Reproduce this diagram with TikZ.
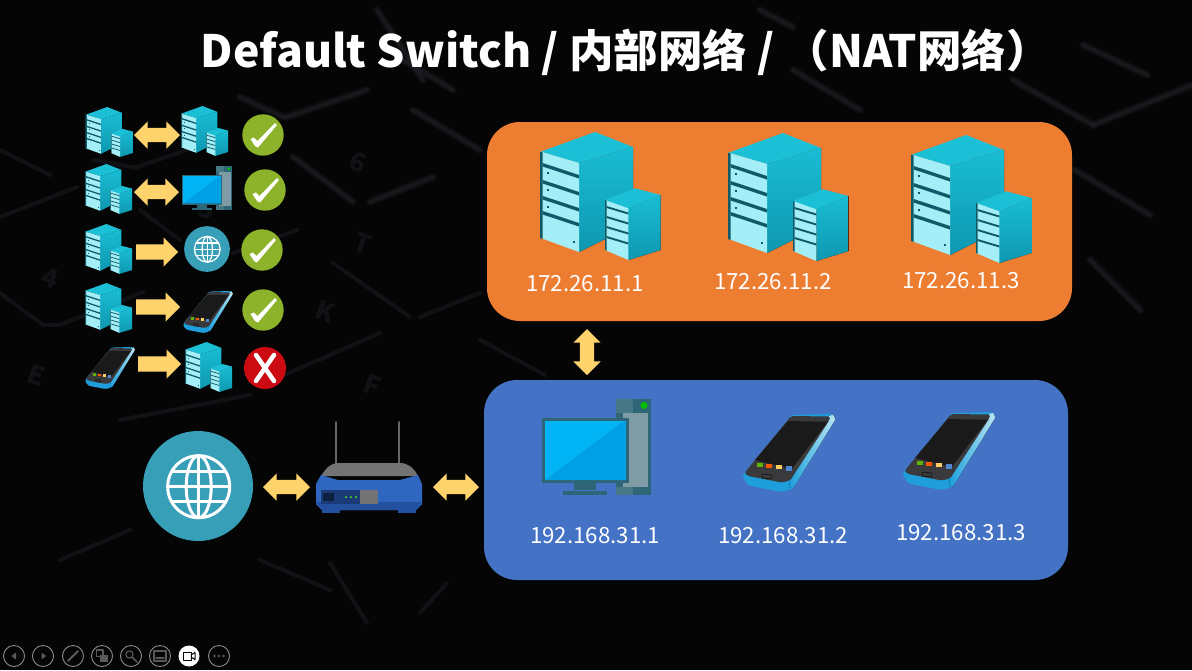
\documentclass[tikz,border=0pt]{standalone}
\usepackage{fontspec}
\setmainfont{Noto Sans CJK SC}
\usetikzlibrary{arrows.meta,calc,positioning,shapes.arrows}
\definecolor{keyglow}{HTML}{1F2026}
\definecolor{keyfaint}{HTML}{111216}
\definecolor{netorange}{HTML}{ED7D31}
\definecolor{netblue}{HTML}{4472C4}
\definecolor{arrowyellow}{HTML}{FFD36B}
\definecolor{okgreen}{HTML}{8DB32B}
\definecolor{badred}{HTML}{CC0A12}
\definecolor{globeteal}{HTML}{389FB8}
\definecolor{towertop}{HTML}{1BC0D6}
\definecolor{towerside}{HTML}{19BDD4}
\definecolor{towerdeep}{HTML}{0E97B0}
\definecolor{towerfront}{HTML}{A4EEF7}
\definecolor{towerband}{HTML}{0F5A68}
\definecolor{pcdark}{HTML}{2F6677}
\definecolor{pcgray}{HTML}{7F9CA6}
\definecolor{pcscreen}{HTML}{00B4F5}
\definecolor{pcshade}{HTML}{00A1E4}
\definecolor{phonerim}{HTML}{1E9FDC}
\definecolor{phonelight}{HTML}{B8E6F2}
\definecolor{phonebody}{HTML}{3A3A3C}
\definecolor{phonescreen}{HTML}{1A1A1A}
\definecolor{routerblue}{HTML}{2F66BF}
\definecolor{routerdeep}{HTML}{234F9F}
\definecolor{toolgray}{HTML}{5A5A5E}

\tikzset{
  pics/serverstack/.style={code={
    % tall tower
    \fill[top color=towerside,bottom color=towerdeep] (39,31) -- (93,15) -- (93,93) -- (39,120) -- cycle;
    \fill[towertop] (0.7,19.7) -- (55,0) -- (93,15) -- (39,31) -- cycle;
    \fill[towerfront] (0.7,19.7) -- (39,31) -- (39,120) -- (0.7,106) -- cycle;
    \fill[towerband] (0,19.7) -- (2.7,20.5) -- (2.7,107) -- (0,106) -- cycle;
    \foreach \yy in {31,48,64,79}{
      \fill[towerband] (2.7,\yy) -- (39,\yy+12) -- (39,\yy+15.5) -- (2.7,\yy+3.5) -- cycle;
    }
    \foreach \dx/\dy in {8/41,8/58,8/75,34/110}{
      \fill[towerband] (\dx-0.8,\dy-0.8) rectangle (\dx+0.8,\dy+0.8);
    }
    % small tower
    \fill[top color=towerside,bottom color=towerdeep] (88.3,76.3) -- (120.7,63) -- (120.7,118) -- (88.3,128) -- cycle;
    \fill[towertop] (65,68) -- (95,56.3) -- (120.7,63) -- (88.3,76.3) -- cycle;
    \fill[towerfront] (65,68) -- (88.3,76.3) -- (88.3,128) -- (65,118) -- cycle;
    \fill[towerband] (65,68) -- (66.5,68.5) -- (66.5,118.7) -- (65,118) -- cycle;
    \foreach \yy in {74,84,94,104}{
      \fill[towerband] (66.5,\yy) -- (88.3,\yy+6.5) -- (88.3,\yy+8.5) -- (66.5,\yy+2) -- cycle;
    }
  }},
  pics/desktoppc/.style={code={
    % tower behind the monitor
    \fill[pcdark] (74,0) rectangle (109,96);
    \fill[pcgray] (81,14) rectangle (106,88);
    \fill[pcdark!70!pcgray] (74,0) rectangle (91,14);
    \fill[pcdark!70!pcgray] (74,88) rectangle (91,96);
    \fill[green!75!black] (102,6.5) circle (3.6);
    % monitor
    \fill[pcdark] (0,19) rectangle (87,84);
    \fill[pcscreen] (3,22) rectangle (84,81);
    \fill[pcshade] (3,81) -- (79,24) -- (84,22) -- (84,81) -- cycle;
    \fill[pcdark] (32,84) rectangle (54,91);
    \fill[pcdark] (21,92) rectangle (65,95.5);
  }},
  pics/smartphone/.style={code={
    \fill[phonerim,rounded corners=2.5] (48.7,1) -- (89,0) -- (92.5,5) -- (50,74.5) -- (38.7,78) -- (5.3,71.5) -- (-0.7,62) -- cycle;
    \fill[left color=phonerim,right color=phonelight] (86,2) -- (90,0.5) -- (92.3,5.5) -- (50,74.5) -- (46,73) -- (47,67) -- cycle;
    \fill[phonebody,rounded corners=2] (48,2) -- (87,2.5) -- (86.5,6) -- (47,66.5) -- (38.7,68.5) -- (5,62) -- (1.5,59) -- cycle;
    \fill[phonescreen] (45,7) -- (84.7,7.7) -- (48.7,55) -- (12,46) -- cycle;
    \draw[phonescreen,line width=0.8pt,rounded corners=1] (19,60) -- (29,61) -- (29,65) -- (19,64) -- cycle;
    \foreach \dx/\dy/\dc in {17/51/green!45!yellow!70!black,26/52/orange!70!red,35.7/53/yellow!40!orange!60!white,46/54.3/cyan!50!blue!75!white}{
      \fill[\dc] (\dx-2.8,\dy-2.3) rectangle (\dx+2.8,\dy+2.3);
    }
  }},
  pics/globeicon/.style={code={
    \fill[globeteal] (0,0) circle (55);
    \begin{scope}[white,line width=#1*3pt]
      \draw (0.7,0.7) circle (31);
      \draw (0.7,0.7) ellipse (12.5 and 31);
      \draw (0.7,-30.3) -- (0.7,31.7);
      \draw (-30.3,0.7) -- (31.7,0.7);
      \draw (-26,-14.3) -- (27.4,-14.3);
      \draw (-26,15.7) -- (27.4,15.7);
    \end{scope}
  }},
  pics/wifirouter/.style={code={
    \foreach \xx in {20,83}{
      \draw[black!60,line width=1.6pt] (\xx,0) -- (\xx,42);
    }
    \fill[black!55] (5,54) .. controls (10,46) and (15,41) .. (22,41) -- (84,41)
      .. controls (92,41) and (98,46) .. (102,54) -- cycle;
    \fill[routerblue] (0,62) -- (5,53) -- (22,58) -- (84,58) -- (102,53) -- (106,62)
      -- (106,82) -- (100,88) -- (6,88) -- (0,82) -- cycle;
    \fill[routerdeep] (0,80) -- (106,80) -- (100,88) -- (6,88) -- cycle;
    \fill[routerdeep!75!black] (5,68) rectangle (44,82);
    \fill[black!55] (44,68) rectangle (62,82);
    \fill[routerdeep!40!black] (7,71) rectangle (18,79);
    \foreach \xx in {30,35,40}{
      \fill[green!70!yellow] (\xx,75) circle (1);
    }
    \fill[routerdeep] (6,88) rectangle (24,91);
    \fill[routerdeep] (82,88) rectangle (100,91);
  }},
  pics/okmark/.style={code={
    \fill[okgreen] (0,0) circle (20.7);
    \fill[white] (-12.5,4) -- (-9,2.5) -- (-5.5,6) -- (12,-12) -- (14,-10) -- (-5,12.5) -- (-8,11) -- cycle;
  }},
  pics/badmark/.style={code={
    \fill[badred] (0,0) circle (21);
    \draw[white,line width=4.5pt] (-9,-13) -- (9,13);
    \draw[white,line width=4.5pt] (9,-13) -- (-9,13);
  }}
}

\begin{document}
\begin{tikzpicture}[x=1pt,y=-1pt,line cap=round,line join=round,
    titletext/.style={text=white,font=\bfseries\fontsize{44.5}{50}\selectfont,inner sep=0pt},
    iptext/.style={text=white,font=\fontsize{22.3}{26}\selectfont,inner sep=0pt},
    netbox/.style={rounded corners=33pt},
    onearrow/.style={single arrow,anchor=tail,fill=arrowyellow,inner xsep=0pt,inner ysep=7.5pt,minimum width=29pt,
      minimum height=#1,single arrow head extend=7pt,single arrow tip angle=90},
    twoarrow/.style={double arrow,fill=arrowyellow,inner xsep=0pt,inner ysep=7pt,minimum width=27pt,
      minimum height=#1,double arrow head extend=6.5pt,double arrow tip angle=90},
    toolbtn/.style={circle,draw=toolgray!70,line width=0.9pt,minimum size=21pt,inner sep=0pt},
    toolmark/.style={toolgray,line width=1.1pt}]
  \useasboundingbox (0,0) rectangle (1192,670);
  \fill[black!98] (0,0) rectangle (1192,670);

  % Key edges of the photo behind everything.
  \foreach \xa/\ya/\xb/\yb in {
    760/10/793/27,793/70/860/110,1013/80/1093/125,1093/125/1192/85,1083/45/1147/75,
    377/10/423/80,403/60/453/90,240/97/283/117,287/117/367/90,413/110/480/150,
    293/157/353/202,370/202/433/177,1075/170/1150/215,1090/260/1140/310}{
    \draw[keyglow,line width=8pt,opacity=0.3] (\xa,\ya) -- (\xb,\yb);
    \draw[keyglow,line width=4pt,opacity=0.6] (\xa,\ya) -- (\xb,\yb);
  }
  \foreach \xa/\ya/\xb/\yb in {
    0/217/77/187,333/263/410/317,420/317/480/293,140/210/180/240,233/253/297/230,
    0/293/43/325,43/325/60/325,60/325/143/292,273/380/380/333,93/160/137/168,
    137/167/187/150,330/563/367/623,420/613/447/583,480/340/545/375,0/150/50/175,
    120/420/250/395,60/560/130/530,260/560/330/590}{
    \draw[keyfaint,line width=4pt] (\xa,\ya) -- (\xb,\yb);
  }
  % Keycap letters, barely visible.
  \foreach \cap/\xx/\yy in {4/50/278,K/325/312,T/363/243,E/37/375,F/372/385,5/207/210,6/358/162}{
    \node[text=keyfaint,font=\bfseries\fontsize{26}{26}\selectfont,rotate=-20] (cap\cap) at (\xx,\yy) {\cap};
  }

  \node[titletext,anchor=base west] (title) at (200.5,67) {Default Switch / 内部网络 / （NAT网络）};

  % The two networks.
  \fill[netorange,netbox] (487,122) rectangle (1072,321);
  \fill[netblue,netbox] (484,380) rectangle (1068,580);

  \pic (serverone) at (540,132) {serverstack};
  \pic (servertwo) at (728,133) {serverstack};
  \pic (serverthree) at (911,135) {serverstack};
  \foreach \nn/\xx/\yy/\addr in {a/585/284/172.26.11.1,b/773/282/172.26.11.2,c/961/281/172.26.11.3,
    d/595/536/192.168.31.1,e/783/536/192.168.31.2,f/961/533/192.168.31.3}{
    \node[iptext] (ip\nn) at (\xx,\yy) {\addr};
  }
  \pic (pcbig) at (542,399) {desktoppc};
  \pic (phoneone) at (743,414) {smartphone};
  \pic (phonetwo) at (903,412) {smartphone};

  \node[twoarrow=46pt,rotate=90] (linkboxes) at (587,352) {};

  % Internet side.
  \pic (internet) at (198,486) {globeicon=1};
  \pic (router) at (316,422) {wifirouter};
  \node[twoarrow=47pt] (linkleft) at (286.5,487) {};
  \node[twoarrow=46pt] (linkright) at (456,487) {};

  % Who can reach whom.
  \foreach \nn/\xx/\yy in {sa/85.7/107,sb/181/106,sc/85/164,sd/85/224,se/85/283,sf/185/342}{
    \pic[scale=0.39] (\nn) at (\xx,\yy) {serverstack};
  }
  \pic[scale=0.46] (pcsmall) at (182,166) {desktoppc};
  \pic[scale=0.415] (globesmall) at (207,249) {globeicon=0.415};
  \pic[scale=0.54] (phonesa) at (183,291) {smartphone};
  \pic[scale=0.54] (phonesb) at (85,347) {smartphone};

  \node[twoarrow=46pt] (rowone) at (157,135) {};
  \node[twoarrow=45pt] (rowtwo) at (156.5,192) {};
  \node[onearrow=42pt] (rowthree) at (136,252) {};
  \node[onearrow=44pt] (rowfour) at (136,307) {};
  \node[onearrow=43pt] (rowfive) at (138,364) {};

  \foreach \nn/\xx/\yy in {oka/263/135,okb/265/190,okc/262/250,okd/263/310}{
    \pic (\nn) at (\xx,\yy) {okmark};
  }
  \pic (nomark) at (265,368) {badmark};

  % Slide show toolbar.
  \foreach \nn/\xx in {a/14,b/43,c/73,d/102,e/131,f/160,h/219}{
    \node[toolbtn] (tool\nn) at (\xx,656) {};
  }
  \node[circle,fill=white,minimum size=21pt,inner sep=0pt] (toolg) at (189,656) {};
  \fill[toolgray] (11.5,656) -- (16,652.5) -- (16,659.5) -- cycle;
  \fill[toolgray] (46,656) -- (41.5,652.5) -- (41.5,659.5) -- cycle;
  \draw[toolmark,line width=1.8pt] (68,661) -- (78,651);
  \draw[toolmark] (96.5,650) rectangle (103,656.5);
  \fill[toolgray] (100,655) rectangle (107.5,661.5);
  \draw[toolmark] (129.5,654.5) circle (3.6);
  \draw[toolmark,line width=1.6pt] (132.5,657.5) -- (137,662);
  \draw[toolmark] (154,651) rectangle (166,661);
  \draw[toolmark] (156,658) -- (164,658);
  \draw[black,line width=1pt] (183,652) rectangle (191,660);
  \draw[black,line width=1pt] (191,655) -- (195,652.5) -- (195,659.5) -- (191,657);
  \foreach \xx in {214.5,219,223.5}{
    \fill[toolgray] (\xx,656) circle (1.3);
  }
\end{tikzpicture}
\end{document}
